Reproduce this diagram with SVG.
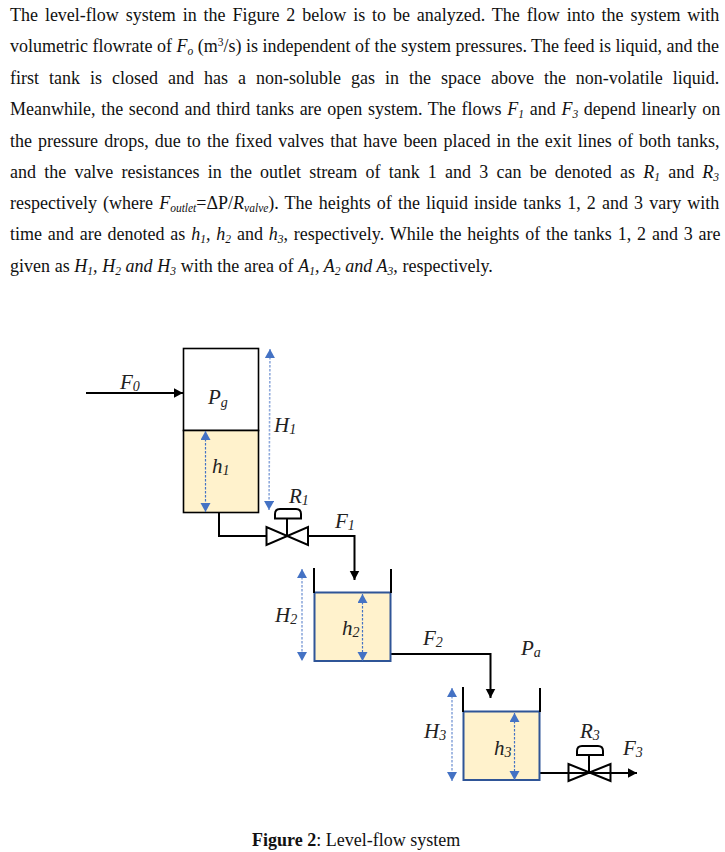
<svg xmlns="http://www.w3.org/2000/svg" width="725" height="852" viewBox="0 0 725 852">
<style>
.p{font:18px "Liberation Serif","Times New Roman",serif;fill:#111}
.p .i{font-style:italic}
.p .s{font-size:11.500px;font-style:italic}
.l{font:italic 21px "Liberation Serif","Times New Roman",serif;fill:#222}
.l tspan{font-size:14px}
.c{font:18px "Liberation Serif","Times New Roman",serif;fill:#111}
.pipe{fill:none;stroke:#000;stroke-width:2}
.valve{fill:#fff;stroke:#000;stroke-width:2}
.wall{fill:none;stroke:#000;stroke-width:2}
.liq{fill:#FFF2CC;stroke:#2F5597;stroke-width:2}
.dim{fill:none;stroke:#4472C4;stroke-width:1.2;stroke-dasharray:2.5 1.5;marker-start:url(#b);marker-end:url(#b)}
.dimL{fill:none;stroke:#8FAADC;stroke-width:1.6;stroke-dasharray:2.5 1.5;marker-start:url(#b);marker-end:url(#b)}
</style>
<defs>
<marker id="a" markerUnits="userSpaceOnUse" markerWidth="11" markerHeight="11" refX="9.500" refY="5.500" orient="auto"><path d="M0 0.500L9.500 5.500L0 10.500Z" fill="#000"/></marker>
<marker id="b" markerUnits="userSpaceOnUse" markerWidth="11" markerHeight="11" refX="9" refY="5" orient="auto-start-reverse"><path d="M0 0L9 5L0 10Z" fill="#4472C4"/></marker>
</defs>
<rect width="725" height="852" fill="#fff"/>
<g id="paragraph">
<text class="p" x="10" y="21" word-spacing="2.4">The level-flow system in the Figure 2 below is to be analyzed. The flow into the system with</text>
<text class="p" x="10" y="52" word-spacing="0">volumetric flowrate of <tspan class="i">F</tspan><tspan class="s" dy="3">o</tspan><tspan dy="-3"> (m</tspan><tspan font-size="11.500" dy="-6">3</tspan><tspan dy="6">/s) is independent of the system pressures. The feed is liquid, and the</tspan></text>
<text class="p" x="10" y="84" word-spacing="5.5">first tank is closed and has a non-soluble gas in the space above the non-volatile liquid.</text>
<text class="p" x="10" y="115" word-spacing="1.2">Meanwhile, the second and third tanks are open system. The flows <tspan class="i">F</tspan><tspan class="s" dy="3">1</tspan><tspan dy="-3"> and </tspan><tspan class="i">F</tspan><tspan class="s" dy="3">3</tspan><tspan dy="-3"> depend linearly on</tspan></text>
<text class="p" x="10" y="147" word-spacing="1.6">the pressure drops, due to the fixed valves that have been placed in the exit lines of both tanks,</text>
<text class="p" x="10" y="178" word-spacing="3.7">and the valve resistances in the outlet stream of tank 1 and 3 can be denoted as <tspan class="i">R</tspan><tspan class="s" dy="3">1</tspan><tspan dy="-3"> and </tspan><tspan class="i">R</tspan><tspan class="s" dy="3">3</tspan></text>
<text class="p" x="10" y="209" word-spacing="1.6">respectively (where <tspan class="i">F</tspan><tspan class="s" dy="3">outlet</tspan><tspan dy="-3">=ΔP/</tspan><tspan class="i">R</tspan><tspan class="s" dy="3">valve</tspan><tspan dy="-3">). The heights of the liquid inside tanks 1, 2 and 3 vary with</tspan></text>
<text class="p" x="10" y="240" word-spacing="1.35">time and are denoted as <tspan class="i">h</tspan><tspan class="s" dy="3">1</tspan><tspan class="i" dy="-3">, h</tspan><tspan class="s" dy="3">2</tspan><tspan dy="-3"> and </tspan><tspan class="i">h</tspan><tspan class="s" dy="3">3</tspan><tspan dy="-3">, respectively. While the heights of the tanks 1, 2 and 3 are</tspan></text>
<text class="p" x="10" y="272" word-spacing="0.15">given as <tspan class="i">H</tspan><tspan class="s" dy="3">1</tspan><tspan class="i" dy="-3">, H</tspan><tspan class="s" dy="3">2</tspan><tspan class="i" dy="-3"> and H</tspan><tspan class="s" dy="3">3</tspan><tspan dy="-3"> with the area of </tspan><tspan class="i">A</tspan><tspan class="s" dy="3">1</tspan><tspan class="i" dy="-3">, A</tspan><tspan class="s" dy="3">2</tspan><tspan class="i" dy="-3"> and A</tspan><tspan class="s" dy="3">3</tspan><tspan dy="-3">, respectively.</tspan></text>
</g>
<g id="connectors">
<path class="pipe" d="M86 393H183" marker-end="url(#a)"/>
<path class="pipe" d="M219 512V536H266"/>
<path class="pipe" d="M308 536H354.500V580" marker-end="url(#a)"/>
<path class="pipe" d="M391 654H490.500V698" marker-end="url(#a)"/>
<path class="pipe" d="M540 773H637" marker-end="url(#a)"/>
</g>
<g id="tank1">
<rect x="183.500" y="348.500" width="75" height="82" fill="#fff" stroke="#000" stroke-width="1.600"/>
<rect x="183.500" y="430.500" width="75" height="82" fill="#FFF2CC" stroke="#000" stroke-width="1.600"/>
<path class="dim" d="M205.500 431V512"/>
<path class="dimL" d="M270 349L269 510"/>
</g>
<g id="tank2">
<rect class="liq" x="314.500" y="592.500" width="76" height="68.500"/>
<path class="wall" d="M314 568V593M391 569V593"/>
<path class="dim" d="M362.500 594V661"/>
<path class="dimL" d="M302 569V661"/>
</g>
<g id="tank3">
<rect class="liq" x="463.500" y="711.500" width="76" height="68.500"/>
<path class="wall" d="M463 687V712M540 688V712"/>
<path class="dim" d="M514.500 713V780"/>
<path class="dimL" d="M452 688V781"/>
</g>
<g id="valve1">
<path class="valve" d="M266.500 527V545L308 527V545Z"/>
<path class="pipe" d="M287 536V519"/>
<path class="valve" d="M275 518.500V514Q275 509 280 509H296Q301 509 301 514V518.500Z"/>
</g>
<g id="valve3">
<path class="pipe" d="M568.500 764V781L610.500 764V781Z"/>
<path class="pipe" d="M589 773V755"/>
<path class="valve" d="M577 755V751Q577 746 582 746H598Q603 746 603 751V755Z"/>
</g>
<g id="labels">
<text class="l" x="120" y="389">F<tspan dy="2">0</tspan></text>
<text class="l" x="208" y="404">P<tspan dy="3">g</tspan></text>
<text class="l" x="274" y="432">H<tspan dy="2">1</tspan></text>
<text class="l" x="212" y="473">h<tspan dy="2">1</tspan></text>
<text class="l" x="289" y="503">R<tspan dy="2">1</tspan></text>
<text class="l" x="335" y="528">F<tspan dy="2">1</tspan></text>
<text class="l" x="275" y="622">H<tspan dy="2">2</tspan></text>
<text class="l" x="342" y="635">h<tspan dy="2">2</tspan></text>
<text class="l" x="423" y="645">F<tspan dy="2">2</tspan></text>
<text class="l" x="521" y="655">P<tspan dy="2">a</tspan></text>
<text class="l" x="424" y="738">H<tspan dy="2">3</tspan></text>
<text class="l" x="494" y="755">h<tspan dy="2">3</tspan></text>
<text class="l" x="580" y="738">R<tspan dy="2">3</tspan></text>
<text class="l" x="623" y="755">F<tspan dy="2">3</tspan></text>
</g>
<text class="c" x="252" y="846"><tspan font-weight="bold">Figure 2</tspan>: Level-flow system</text>
</svg>
